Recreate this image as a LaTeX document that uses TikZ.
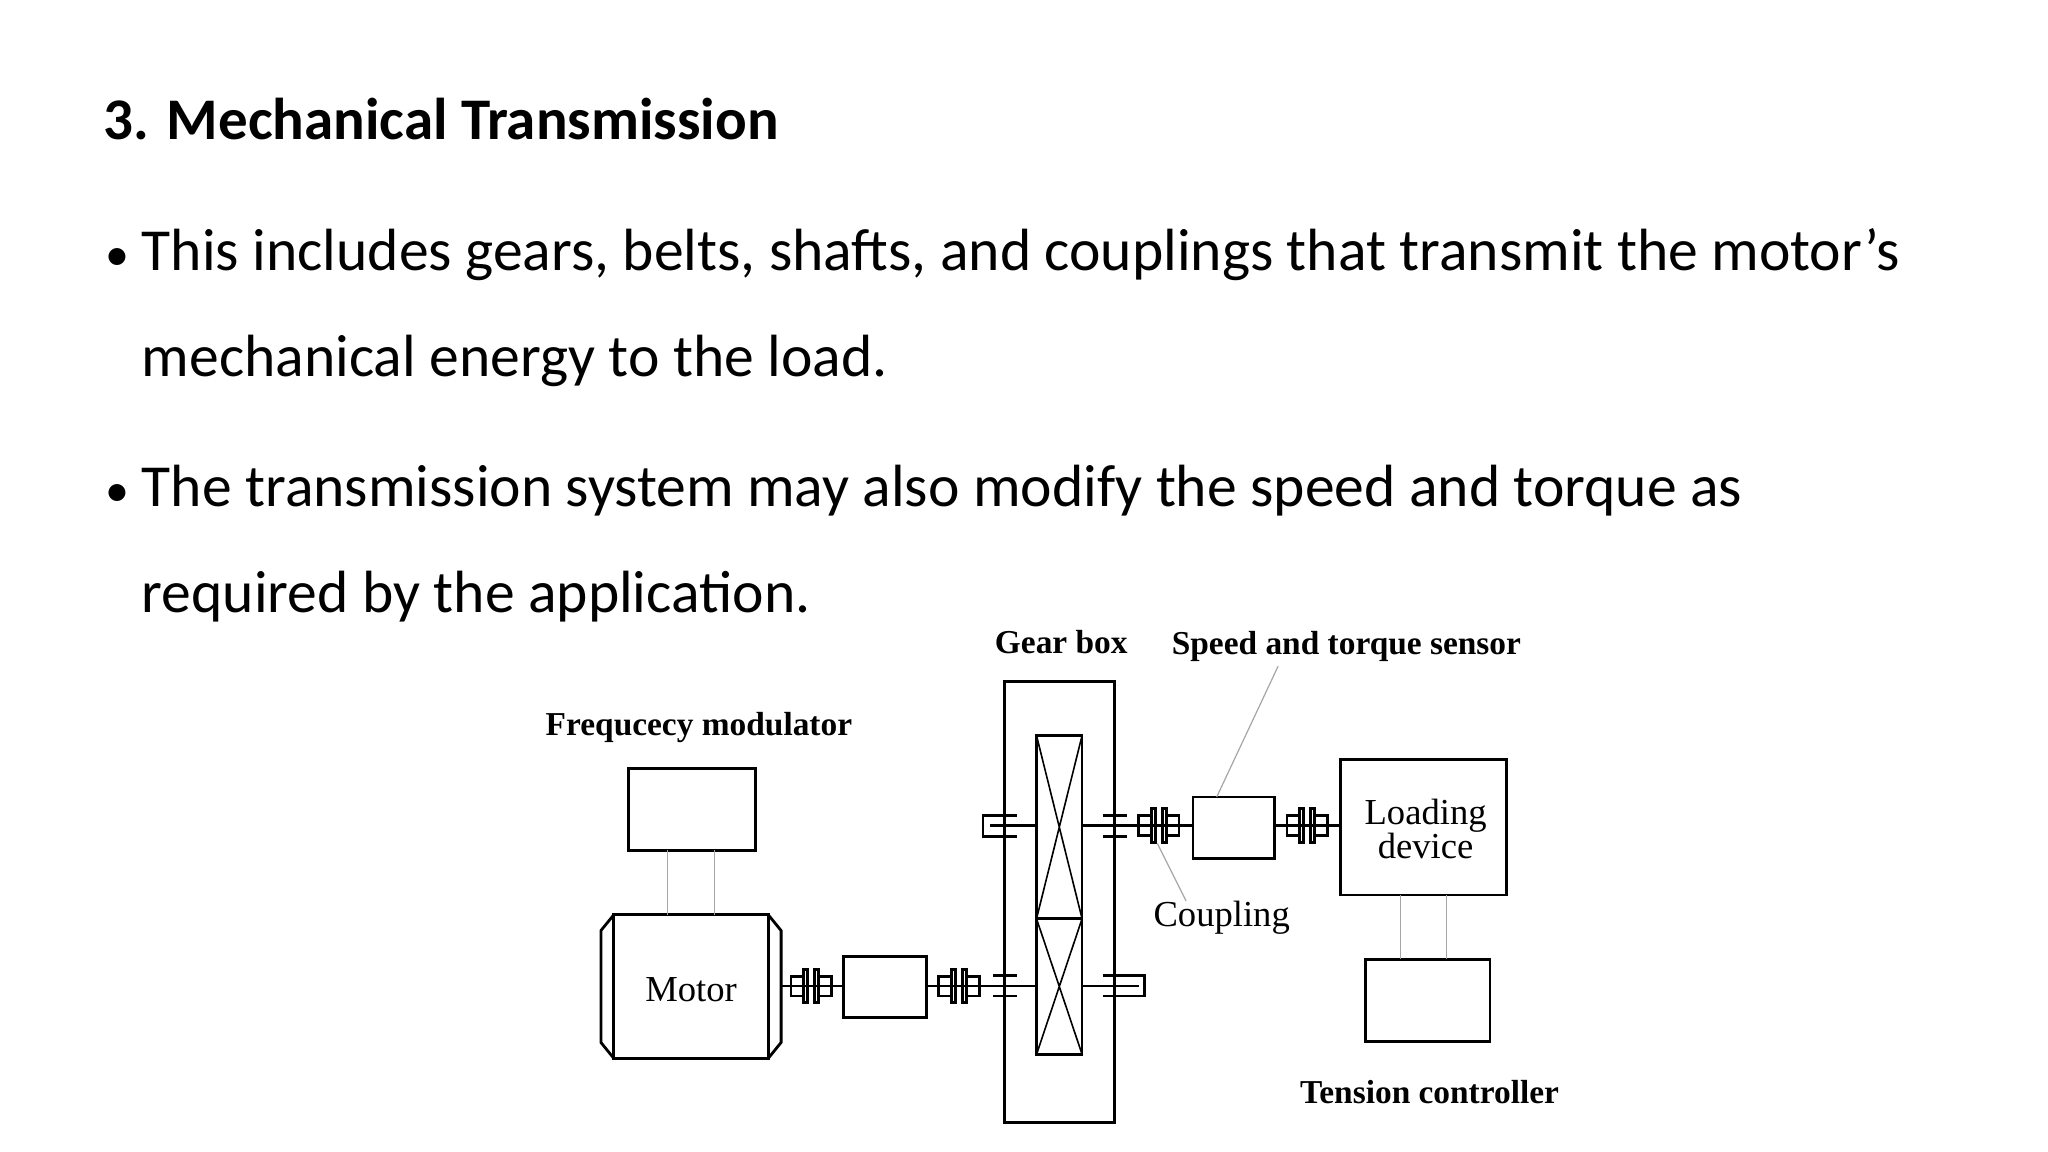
\documentclass[tikz,border=0pt]{standalone}
\usepackage{fontspec}
\setmainfont{Carlito}
\newfontfamily\dserif{Liberation Serif}
\begin{document}
\begin{tikzpicture}[x=0.495pt,y=-0.495pt,
  txt/.style={inner sep=0pt,anchor=base west,font=\fontsize{29.8}{36}\selectfont},
  bul/.style={inner sep=0pt,anchor=base west,font=\fontsize{24}{28}\selectfont},
  lbl/.style={inner sep=0pt,font=\dserif\bfseries\fontsize{16.7}{19}\selectfont},
  lblr/.style={inner sep=0pt,font=\dserif\fontsize{18.3}{20}\selectfont,align=center},
  part/.style={draw,line width=1.4pt},
  thin/.style={draw,gray!70,line width=0.6pt},
  shaft/.style={line width=1.4pt}
]
\fill[white] (0,0) rectangle (2068.7,1163.6);
\node[inner sep=0pt,anchor=base west,font=\bfseries\fontsize{29.5}{34}\selectfont] (title) at (104,141) {3. Mechanical Transmission};
\node[bul] (b1) at (106,273) {•};
\node[txt] (l1) at (143,273) {This includes gears, belts, shafts, and couplings that transmit the motor’s};
\node[txt] (l2) at (143,380) {mechanical energy to the load.};
\node[bul] (b2) at (106,512) {•};
\node[txt] (l3) at (143,512) {The transmission system may also modify the speed and torque as};
\node[txt] (l4) at (143,619) {required by the application.};

% boxes
\draw[part] (635,776) rectangle (763,859);
\draw[part] (620,924) rectangle (776,1069);
\draw[part] (620,924) -- (607,940) -- (607,1053) -- (620,1069);
\draw[part] (776,924) -- (789,940) -- (789,1053) -- (776,1069);
\node[lblr] (motor) at (698,1000) {Motor};
\draw[thin] (674,859) -- (674,924);
\draw[thin] (722,859) -- (722,924);
\draw[part] (852,966) rectangle (936,1028);
% gearbox
\draw[part] (1015,688) rectangle (1126,1134);
\draw[part] (1047,743) rectangle (1093,1065);
\draw[part] (1047,928) -- (1093,928);
\draw[line width=0.8pt] (1047,743) -- (1093,928) (1093,743) -- (1047,928) (1047,928) -- (1093,1065) (1093,928) -- (1047,1065);
% shafts
\draw[shaft] (789,996) -- (852,996) (936,996) -- (1047,996) (1093,996) -- (1150,996);
\draw[shaft] (1000,834) -- (1047,834) (1093,834) -- (1354,834);
% bearings
\foreach \bx in {1003,1114}{
  \draw[part] (\bx,824) -- ++(24,0) (\bx,845) -- ++(24,0);
  \draw[part] (\bx,985) -- ++(24,0) (\bx,1006) -- ++(24,0);}
\draw[part] (1003,824) -- (993,824) -- (993,845) -- (1003,845);
\draw[part] (1138,985) -- (1156,985) -- (1156,1006) -- (1138,1006);
% couplings
\foreach \cx/\cy in {799/996,948/996,1150/834,1300/834}{
  \draw[part,fill=white] (\cx,\cy-10) rectangle ++(13,20);
  \draw[part,fill=white] (\cx+13,\cy-17) rectangle ++(4,34);
  \draw[part,fill=white] (\cx+24,\cy-17) rectangle ++(4,34);
  \draw[part,fill=white] (\cx+28,\cy-10) rectangle ++(13,20);
  \draw[shaft] (\cx,\cy) -- ++(41,0);}
% sensor, loading, tension
\draw[part,fill=white] (1205,805) rectangle (1287,867);
\draw[part] (1354,767) rectangle (1522,904);
\node[lblr] (load) at (1440,837) {Loading\\[-3pt]device};
\draw[part] (1379,969) rectangle (1505,1052);
\draw[thin] (1415,904) -- (1415,969);
\draw[thin] (1461,904) -- (1461,969);
% labels
\node[lbl] (gb) at (1072,649) {Gear box};
\node[lbl] (sts) at (1360,653) {Speed and torque sensor};
\node[lbl] (fml) at (706,735) {Frequcecy modulator};
\node[lblr] (cp) at (1234,927) {Coupling};
\node[lbl] (tc) at (1444,1103) {Tension controller};
\coordinate (s1) at (1291,673); \coordinate (s2) at (1229,805);
\draw[thin] (s1) -- (s2);
\coordinate (c1) at (1198,910); \coordinate (c2) at (1169,852);
\draw[thin] (c1) -- (c2);
\end{tikzpicture}
\end{document}
